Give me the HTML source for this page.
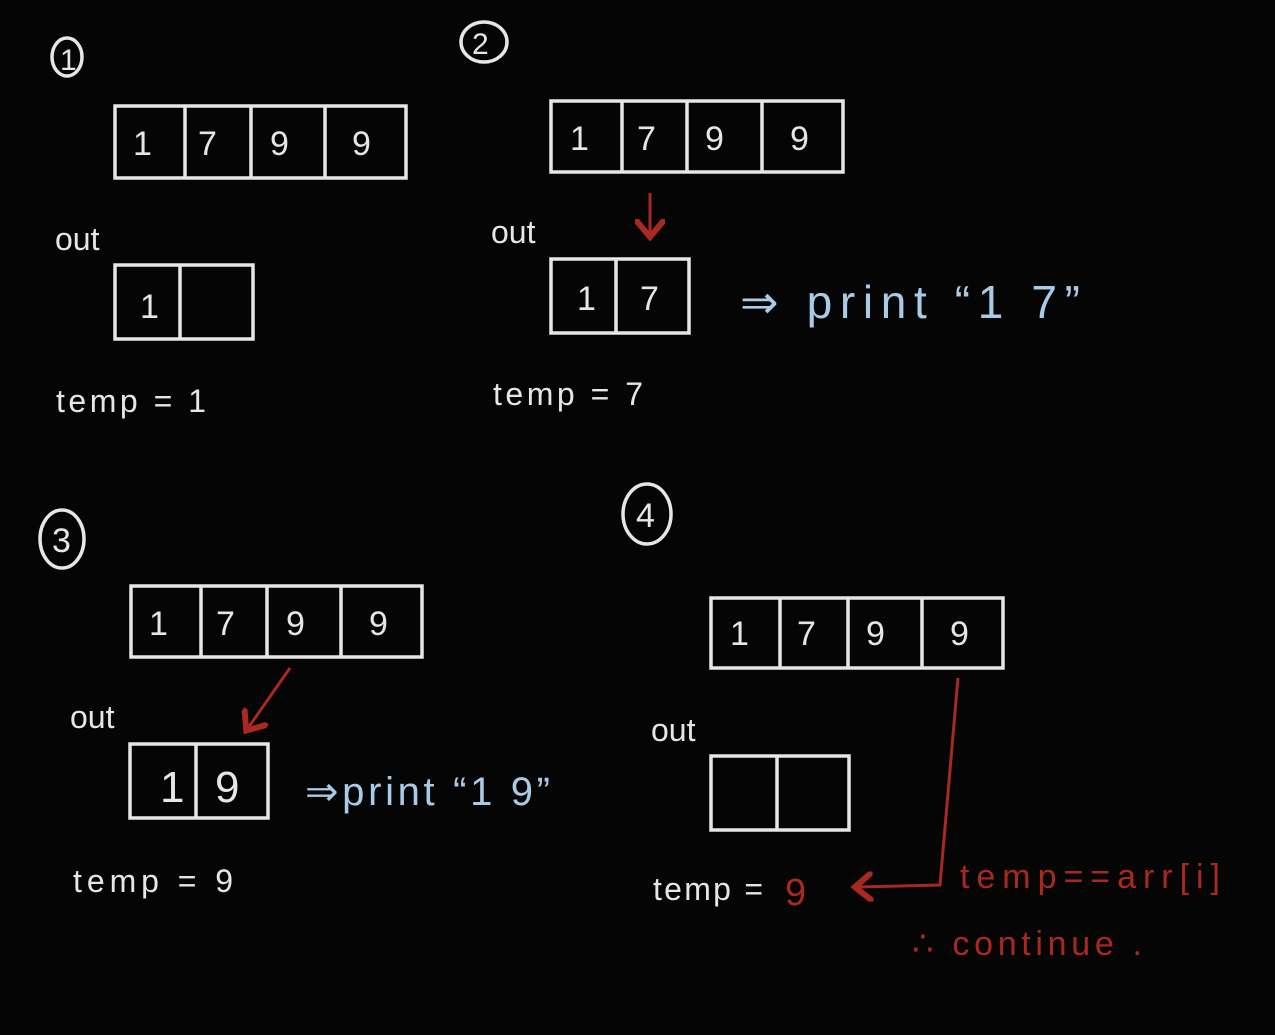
<!DOCTYPE html>
<html><head><meta charset="utf-8"><style>
html,body{margin:0;padding:0;background:#050505;}
svg{display:block}
text{font-family:"Liberation Sans",sans-serif;}
</style></head><body>
<svg width="1275" height="1035" viewBox="0 0 1275 1035" xmlns="http://www.w3.org/2000/svg">
<rect width="1275" height="1035" fill="#050505"/>
<defs>
<marker id="ar" markerWidth="10" markerHeight="10" refX="5" refY="5" orient="auto"><path d="M0,0 L6,5 L0,10" fill="none" stroke="#a8291f" stroke-width="2"/></marker>
</defs>
<g fill="none" stroke="#e6e6e6" stroke-width="3.5">
<ellipse cx="67" cy="57" rx="15" ry="19"/>
<rect x="115" y="106" width="291" height="72"/>
<path d="M185 106V178M251 106V178M325 106V178"/>
<rect x="115" y="265" width="138" height="74"/><path d="M180 265V339"/>
<ellipse cx="484" cy="42" rx="23" ry="20"/>
<rect x="551" y="101" width="292" height="71"/>
<path d="M622 101V172M687 101V172M762 101V172"/>
<rect x="551" y="259" width="138" height="74"/><path d="M616 259V333"/>
<ellipse cx="62" cy="539" rx="22" ry="29"/>
<rect x="131" y="586" width="291" height="71"/>
<path d="M201 586V657M267 586V657M341 586V657"/>
<rect x="130" y="744" width="138" height="74"/><path d="M196 744V818"/>
<ellipse cx="647" cy="514" rx="24" ry="30"/>
<rect x="711" y="598" width="292" height="70"/>
<path d="M780 598V668M848 598V668M922 598V668"/>
<rect x="711" y="756" width="138" height="74"/><path d="M777 756V830"/>
</g>
<g fill="none" stroke="#a8291f" stroke-width="3">
<path d="M650 193V234" marker-end="url(#ar)"/>
<path d="M290 668L248 728" marker-end="url(#ar)"/>
<path d="M958 678L940 885L858 887" marker-end="url(#ar)"/>
</g>
<g fill="#e6e6e6" font-size="34">
<text x="60" y="70" font-size="30">1</text>
<text x="472" y="54" font-size="30">2</text>
<text x="52" y="552" font-size="34">3</text>
<text x="636" y="527" font-size="34">4</text>
<text x="133" y="155">1</text><text x="198" y="155">7</text><text x="270" y="155">9</text><text x="352" y="155">9</text>
<text x="570" y="150">1</text><text x="637" y="150">7</text><text x="705" y="150">9</text><text x="790" y="150">9</text>
<text x="149" y="635">1</text><text x="216" y="635">7</text><text x="286" y="635">9</text><text x="369" y="635">9</text>
<text x="730" y="645">1</text><text x="797" y="645">7</text><text x="866" y="645">9</text><text x="950" y="645">9</text>
<text x="140" y="318">1</text>
<text x="577" y="310">1</text><text x="640" y="310">7</text>
<text x="160" y="802" font-size="44">1</text><text x="215" y="802" font-size="44">9</text>
<text x="55" y="250" font-size="32">out</text>
<text x="491" y="243" font-size="32">out</text>
<text x="70" y="728" font-size="32">out</text>
<text x="651" y="741" font-size="32">out</text>
<text x="56" y="412" font-size="32" textLength="150">temp = 1</text>
<text x="493" y="405" font-size="32" textLength="150">temp = 7</text>
<text x="73" y="892" font-size="32" textLength="160">temp = 9</text>
<text x="653" y="900" font-size="32" textLength="110">temp = </text>
</g>
<text x="785" y="905" font-size="38" fill="#a8291f">9</text>
<g fill="#a8cce8">
<text x="740" y="318" font-size="46" textLength="340">⇒ print “1 7”</text>
<text x="305" y="805" font-size="40" textLength="245">⇒print “1 9”</text>
</g>
<g fill="#a8291f" font-size="34">
<text x="960" y="888" textLength="260">temp==arr[i]</text>
<text x="912" y="955" textLength="230">∴ continue .</text>
</g>
</svg>
</body></html>
